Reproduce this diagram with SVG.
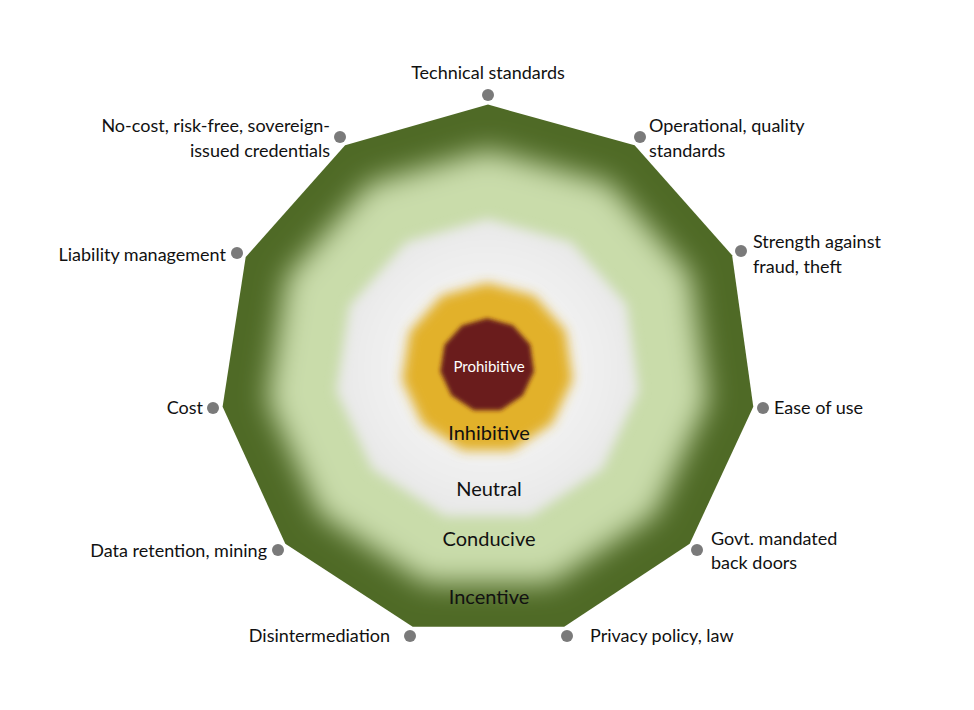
<svg xmlns="http://www.w3.org/2000/svg" width="974" height="710" viewBox="0 0 974 710">
<style>
.lb{font-family:Lato,"Noto Sans",sans-serif;font-size:18px;fill:#111}
.in{font-family:Lato,"Noto Sans",sans-serif;font-size:20px;fill:#111;text-anchor:middle}
.dot{fill:#7a7a7a}
</style>
<defs>
<filter id="b12" x="-20%" y="-20%" width="140%" height="140%"><feGaussianBlur stdDeviation="14"/></filter>
<filter id="b6" x="-20%" y="-20%" width="140%" height="140%"><feGaussianBlur stdDeviation="6"/></filter>
<filter id="b2" x="-20%" y="-20%" width="140%" height="140%"><feGaussianBlur stdDeviation="2"/></filter>
<radialGradient id="ng"><stop offset="0" stop-color="#ffffff"/><stop offset="1" stop-color="#e8e8e8"/></radialGradient>
</defs>
<rect width="974" height="710" fill="#fff"/>
<g id="rings">
<polygon fill="#4f6a26" points="488,104.6 634.6,145.2 732.1,255.2 753.3,406.7 689.7,543.7 564.2,626.7 412.7,626.7 285.3,543.7 222.6,406.7 245.7,257.1 345.1,145.2"/>
<polygon fill="#c9dcaa" filter="url(#b12)" points="487.8,150 609.4,183.6 690.2,274.8 707.8,400.4 655,514 551,582.8 425.4,582.8 319.8,514 267.8,400.4 287,276.4 369.4,183.6"/>
<polygon fill="url(#ng)" filter="url(#b6)" points="487.6,218.8 571.2,241.9 626.7,304.6 638.8,390.9 602.5,469 531,516.3 444.7,516.3 372.1,469 336.3,390.9 349.5,305.7 406.2,241.9"/>
<polygon fill="#e2b12c" filter="url(#b6)" points="487.3,282.8 534.4,295.8 565.7,331.1 572.6,379.8 552.1,423.8 511.8,450.5 463.1,450.5 422.2,423.8 402.1,379.8 409.5,331.7 441.4,295.8"/>
<polygon fill="#6b1f1f" filter="url(#b2)" points="487.2,318.3 513,325.4 530.2,344.8 533.9,371.5 522.7,395.6 500.6,410.2 473.9,410.2 451.5,395.6 440.4,371.5 444.5,345.1 462,325.4"/>
<text x="489" y="372" text-anchor="middle" style="font-family:Lato,'Noto Sans',sans-serif;font-size:15px;fill:#fff">Prohibitive</text>
<text class="in" x="489" y="440">Inhibitive</text>
<text class="in" x="489" y="496">Neutral</text>
<text class="in" x="489" y="546">Conducive</text>
<text class="in" x="489" y="604">Incentive</text>
</g>
<g id="axes">
<circle class="dot" cx="488" cy="95" r="6"/><text class="lb" x="488" y="79" text-anchor="middle">Technical standards</text>
<circle class="dot" cx="640" cy="137" r="6"/><text class="lb" x="649" y="132">Operational, quality</text><text class="lb" x="649" y="157">standards</text>
<circle class="dot" cx="741" cy="251" r="6"/><text class="lb" x="753" y="248">Strength against</text><text class="lb" x="753" y="273">fraud, theft</text>
<circle class="dot" cx="763" cy="408" r="6"/><text class="lb" x="774" y="414">Ease of use</text>
<circle class="dot" cx="697" cy="550" r="6"/><text class="lb" x="711" y="545">Govt. mandated</text><text class="lb" x="711" y="569">back doors</text>
<circle class="dot" cx="567" cy="636" r="6"/><text class="lb" x="590" y="642">Privacy policy, law</text>
<circle class="dot" cx="410" cy="636" r="6"/><text class="lb" x="390" y="642" text-anchor="end">Disintermediation</text>
<circle class="dot" cx="278" cy="550" r="6"/><text class="lb" x="267" y="557" text-anchor="end">Data retention, mining</text>
<circle class="dot" cx="213" cy="408" r="6"/><text class="lb" x="203" y="414" text-anchor="end">Cost</text>
<circle class="dot" cx="237" cy="253" r="6"/><text class="lb" x="226" y="261" text-anchor="end">Liability management</text>
<circle class="dot" cx="340" cy="137" r="6"/><text class="lb" x="330" y="132" text-anchor="end">No-cost, risk-free, sovereign-</text><text class="lb" x="330" y="157" text-anchor="end">issued credentials</text>
</g>
</svg>
